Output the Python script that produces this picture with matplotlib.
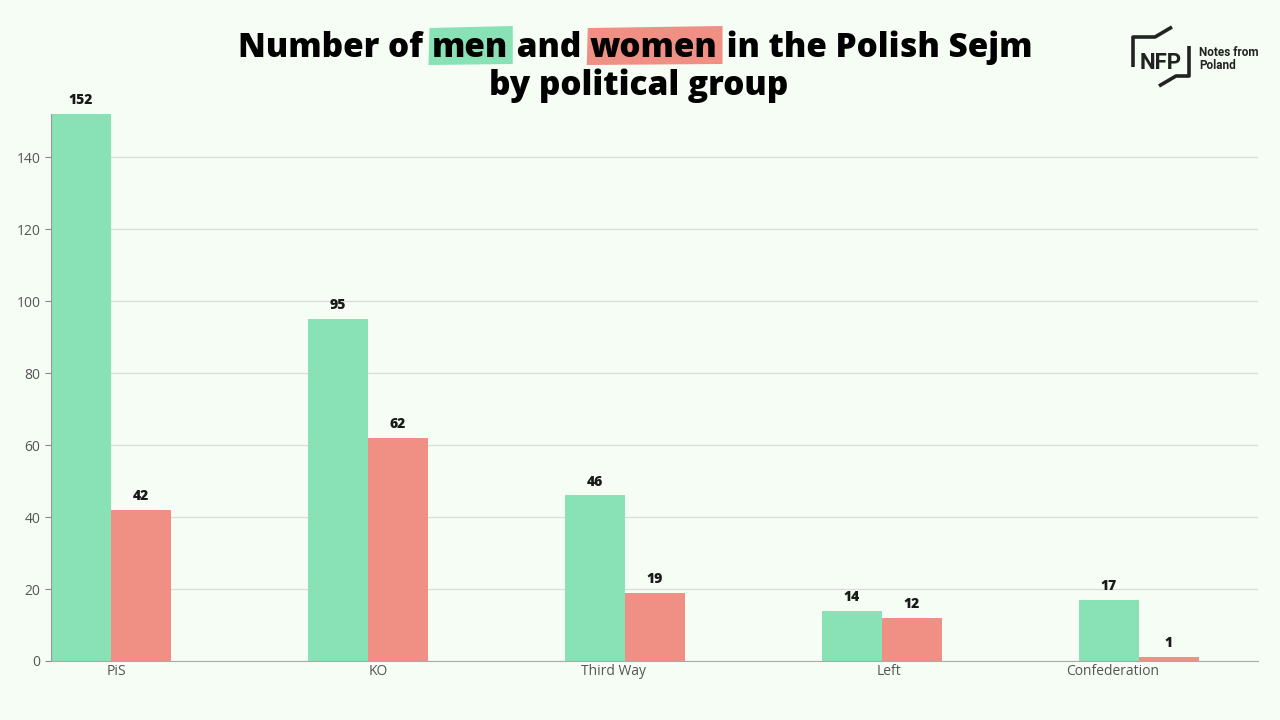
import matplotlib.pyplot as plt
import matplotlib.patches as patches
from matplotlib.lines import Line2D
import numpy as np

# data
groups = ["PiS", "KO", "Third Way", "Left", "Confederation"]
men = [152, 95, 46, 14, 17]
women = [42, 62, 19, 12, 1]

bg = "#f6fdf5"
green = "#88e2b5"
red = "#f09084"

plt.rcParams['font.family'] = ['Open Sans', 'DejaVu Sans']

fig = plt.figure(figsize=(12.8, 7.2), dpi=100, facecolor=bg)
ax = fig.add_axes([51/1280, 1 - 661/720, 1207/1280, 547/720])
ax.set_facecolor(bg)

x = np.arange(len(groups))
w = 0.2335
b1 = ax.bar(x - w/2, men, w, color=green, zorder=2)
b2 = ax.bar(x + w/2, women, w, color=red, zorder=2)

for bars, vals in [(b1, men), (b2, women)]:
    for r, v in zip(bars, vals):
        ax.annotate(str(v), (r.get_x() + r.get_width()/2, r.get_height()),
                    xytext=(0, 5), textcoords="offset points", ha="center", va="bottom",
                    fontsize=10, fontweight="heavy", color="#1a1a1a")

ax.set_xlim(-w, 4.463)
ax.set_ylim(0, 152)
ax.set_yticks(range(0, 141, 20))
ax.set_xticks(x)
ax.set_xticklabels([])
# the original nudges its category labels a little off the group centres
label_shift = [5, 10, -12, 7, -26]
for xi, g, dx in zip(x, groups, label_shift):
    ax.annotate(g, (xi, 0), xycoords=("data", "axes fraction"), xytext=(dx, -3),
                textcoords="offset pixels", ha="center", va="top", fontsize=10, color="#555555")
ax.grid(axis="y", color="#d9dcd9", linewidth=0.9, zorder=0)
ax.tick_params(axis="y", colors="#888888", labelcolor="#555555", labelsize=10, length=4)
ax.tick_params(axis="x", length=0)
for s in ["top", "right"]:
    ax.spines[s].set_visible(False)
ax.spines["left"].set_color("#999999")
ax.spines["bottom"].set_color("#aaaaaa")

# title with highlighted words, built from pieces
fig.canvas.draw()
rend = fig.canvas.get_renderer()
tfont = dict(fontsize=24, fontweight="heavy", family=['Open Sans', 'DejaVu Sans'], color="black")
pieces = [("Number of ", None), ("men", green), (" and ", None), ("women", red), (" in the Polish Sejm", None)]
texts = []
for s, c in pieces:
    t = fig.text(0, 0, s, va="baseline", ha="left", **tfont)
    texts.append((t, c))
widths = [t.get_window_extent(rend).width for t, _ in texts]
total = sum(widths)
xpos = 635 - total/2
ybase = 57
for (t, c), wd in zip(texts, widths):
    t.set_position((xpos/1280, 1 - ybase/720))
    if c is not None:
        pad = 3
        poly = patches.Polygon([((xpos - pad)/1280, 1 - 65/720), ((xpos + wd + pad + 2)/1280, 1 - 64/720),
                                ((xpos + wd + pad + 2)/1280, 1 - 26/720), ((xpos - pad + 1)/1280, 1 - 28/720)],
                               closed=True, transform=fig.transFigure, facecolor=c, edgecolor="none", zorder=0)
        fig.patches.append(poly)
    xpos += wd
fig.text(639/1280, 1 - 95/720, "by political group", ha="center", va="baseline", **tfont)

# logo
lc = "#222222"
tf = fig.transFigure
def fl(xs, ys):
    fig.add_artist(Line2D([v/1280 for v in xs], [1 - v/720 for v in ys], transform=tf,
                          color=lc, linewidth=2.6, solid_capstyle="butt"))
fl([1133, 1133, 1155, 1172], [67, 37, 37, 27])
fl([1159, 1176, 1189, 1189], [86, 76, 76, 46])
fig.text(1161/1280, 1 - 69/720, "NFP", ha="center", va="baseline", fontsize=16,
         fontweight="bold", family=['Roboto', 'DejaVu Sans'], color=lc, stretch="condensed")
fig.text(1199/1280, 1 - 56/720, "Notes from", ha="left", va="baseline", fontsize=8.5,
         fontweight="bold", family=['Roboto', 'DejaVu Sans'], color=lc)
fig.text(1199/1280, 1 - 69/720, "Poland", ha="left", va="baseline", fontsize=8.5,
         fontweight="bold", family=['Roboto', 'DejaVu Sans'], color=lc)

fig.savefig("out.png", dpi=100, facecolor=bg)
